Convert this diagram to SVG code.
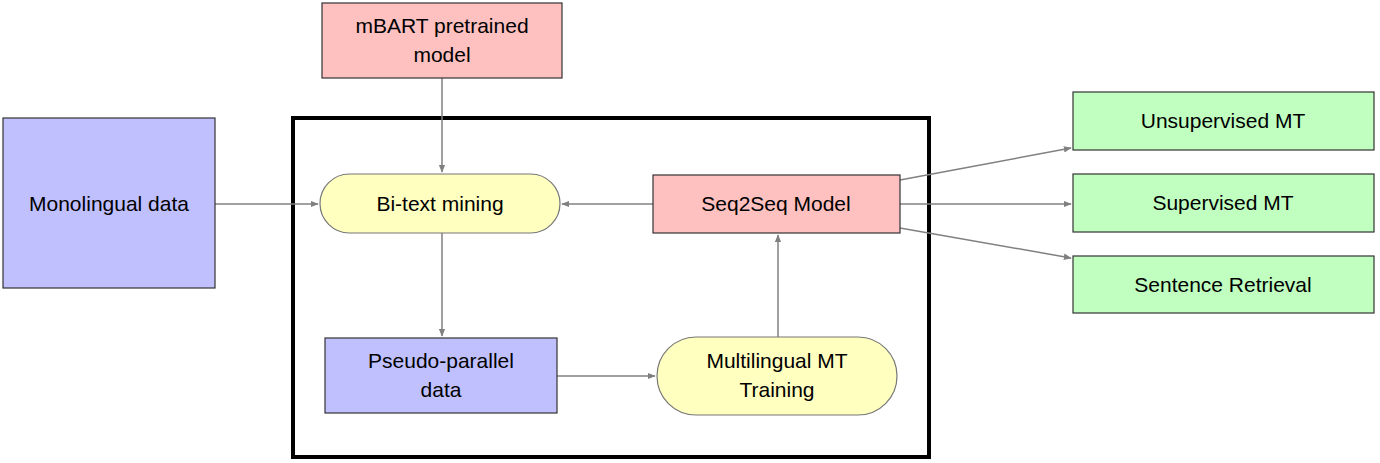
<svg xmlns="http://www.w3.org/2000/svg" width="1380" height="463" viewBox="0 0 1380 463">
<style>
text{font-family:"Liberation Sans",Arial,sans-serif;font-size:21px;fill:#000;text-anchor:middle}
.pink{fill:#ffc0c0;stroke:#333;stroke-width:1.2}
.blue{fill:#c0c0ff;stroke:#333;stroke-width:1.2}
.yel{fill:#ffffc0;stroke:#777;stroke-width:1.2}
.green{fill:#c0ffc0;stroke:#333;stroke-width:1.2}
.c{stroke:#808080;stroke-width:1.5;fill:none;marker-end:url(#a)}
</style>
<defs><marker id="a" viewBox="0 0 10 10" refX="9" refY="5" markerWidth="8" markerHeight="8" orient="auto" markerUnits="userSpaceOnUse"><path d="M0,1 L10,5 L0,9 z" fill="#808080"/></marker></defs>
<rect x="0" y="0" width="1380" height="463" fill="#fff"/>
<rect x="293" y="118" width="636" height="339" fill="none" stroke="#000" stroke-width="4"/>
<g id="connectors">
<line class="c" x1="442" y1="78" x2="442" y2="172"/>
<line class="c" x1="215" y1="204" x2="318" y2="204"/>
<line class="c" x1="653" y1="204" x2="562" y2="204"/>
<line class="c" x1="442" y1="233" x2="442" y2="336"/>
<line class="c" x1="557" y1="376" x2="655" y2="376"/>
<line class="c" x1="778" y1="337" x2="778" y2="235"/>
<line class="c" x1="900" y1="180" x2="1071" y2="148"/>
<line class="c" x1="900" y1="204" x2="1071" y2="204"/>
<line class="c" x1="900" y1="228" x2="1071" y2="258"/>
</g>
<g id="mbart"><rect class="pink" x="322" y="3" width="240" height="75"/><text x="442" y="33">mBART pretrained</text><text x="442" y="62">model</text></g>
<g id="mono"><rect class="blue" x="3" y="118" width="212" height="170"/><text x="109" y="211">Monolingual data</text></g>
<g id="bitext"><rect class="yel" x="320" y="174" width="240" height="59" rx="29.5"/><text x="440" y="211">Bi-text mining</text></g>
<g id="seq2seq"><rect class="pink" x="653" y="175" width="247" height="58"/><text x="776" y="211">Seq2Seq Model</text></g>
<g id="pseudo"><rect class="blue" x="325" y="338" width="232" height="75"/><text x="441" y="368">Pseudo-parallel</text><text x="441" y="397">data</text></g>
<g id="multi"><rect class="yel" x="657" y="337" width="240" height="78" rx="39"/><text x="777" y="368">Multilingual MT</text><text x="777" y="397">Training</text></g>
<g id="unsup"><rect class="green" x="1073" y="92" width="301" height="58"/><text x="1223" y="128">Unsupervised MT</text></g>
<g id="sup"><rect class="green" x="1073" y="174" width="301" height="58"/><text x="1223" y="210">Supervised MT</text></g>
<g id="retr"><rect class="green" x="1073" y="256" width="301" height="57"/><text x="1223" y="292">Sentence Retrieval</text></g>
</svg>
